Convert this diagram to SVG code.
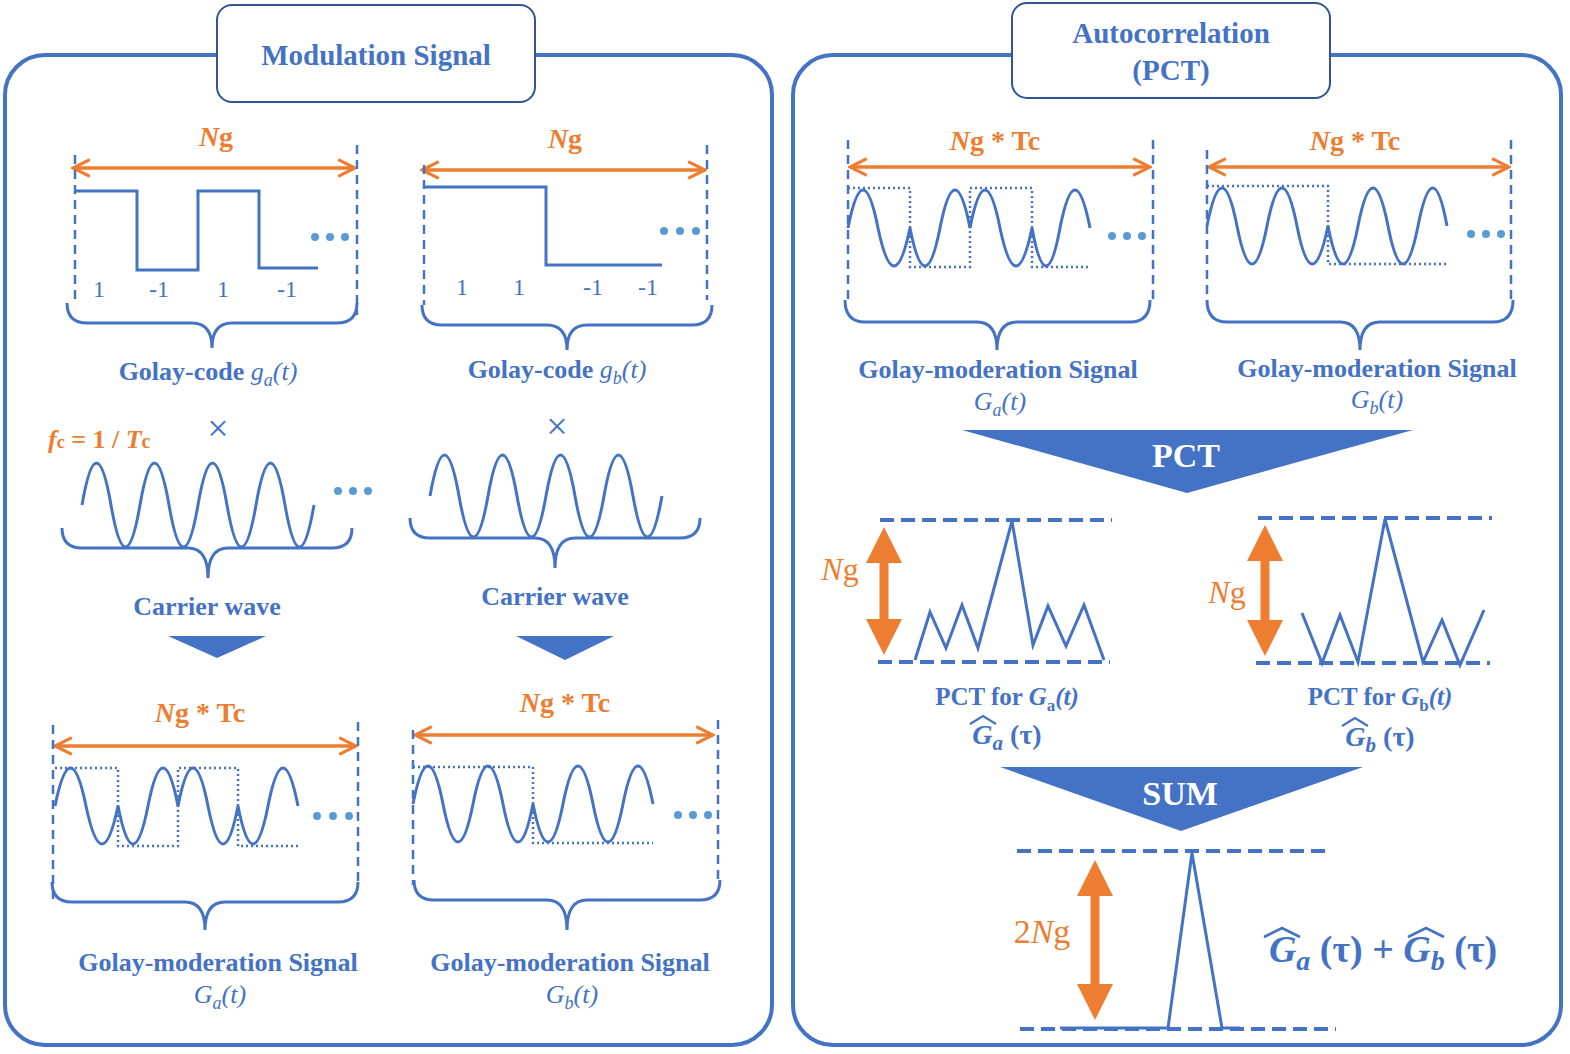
<svg xmlns="http://www.w3.org/2000/svg" width="1570" height="1054" viewBox="0 0 1570 1054">
<style>
.pan{fill:#fff;stroke:#4472C4;stroke-width:4}
.tbox{fill:#fff;stroke:#2F5597;stroke-width:2}
.b{fill:none;stroke:#4472C4;stroke-width:3}
.dv{fill:none;stroke:#4472C4;stroke-width:2.5;stroke-dasharray:9 6}
.dh{fill:none;stroke:#4472C4;stroke-width:4;stroke-dasharray:14 7}
.dot{fill:none;stroke:#4472C4;stroke-width:2.5;stroke-dasharray:2 3}
.oa{stroke:#ED7D31;stroke-width:3.5;marker-start:url(#ah);marker-end:url(#ah)}
.va{stroke:#ED7D31;stroke-width:9}
.t{font-family:"Liberation Serif",serif;font-weight:bold;fill:#4472C4;font-size:26px;text-anchor:middle}
.m{font-family:"Liberation Serif",serif;font-style:italic;fill:#4472C4;font-size:26px;text-anchor:middle}
.o{font-family:"Liberation Serif",serif;font-weight:bold;fill:#ED7D31;font-size:28px;text-anchor:middle}
.n{font-family:"Liberation Serif",serif;fill:#4472C4;font-size:24px;text-anchor:middle}
.w{font-family:"Liberation Serif",serif;font-weight:bold;fill:#fff;font-size:34px;text-anchor:middle}
.tri{fill:#4472C4}
.dd{fill:#5B9BD5}
.hat{fill:none;stroke:#4472C4;stroke-width:2.2}
</style>
<defs>
<marker id="ah" viewBox="0 0 20 20" refX="18" refY="10" markerWidth="6" markerHeight="6" orient="auto-start-reverse" markerUnits="strokeWidth"><path d="M2 2 L18 10 L2 18" fill="none" stroke="#ED7D31" stroke-width="3"/></marker>
<marker id="vh" viewBox="0 0 10 10" refX="5" refY="5" markerWidth="4.5" markerHeight="4" orient="auto-start-reverse"><path d="M0 0 L10 5 L0 10 Z" fill="#ED7D31"/></marker>
</defs>
<rect width="1570" height="1054" fill="#fff"/>
<g id="panel-left"><rect class="pan" x="5" y="55" width="767" height="990" rx="40"/>
<rect class="tbox" x="217" y="5" width="318" height="97" rx="15"/><text class="t" x="376" y="65" style="font-size:29px">Modulation Signal</text></g>
<g id="panel-right"><rect class="pan" x="793" y="55" width="768" height="990" rx="40"/>
<rect class="tbox" x="1012" y="3" width="318" height="95" rx="15"/><text class="t" x="1171" y="43" style="font-size:29px">Autocorrelation</text><text class="t" x="1171" y="80" style="font-size:29px">(PCT)</text></g>

<g id="golay-a">
<text class="o" x="216" y="146"><tspan font-style="italic">N</tspan>g</text>
<line class="oa" x1="73" y1="168" x2="355" y2="168"/>
<line class="dv" x1="75" y1="155" x2="75" y2="300"/><line class="dv" x1="357" y1="145" x2="357" y2="315"/>
<path class="b" d="M75 191 H137 V270 H198 V191 H259 V268 H318"/>
<circle class="dd" cx="315" cy="237" r="4"/><circle class="dd" cx="330" cy="237" r="4"/><circle class="dd" cx="345" cy="237" r="4"/>
<text class="n" x="99" y="297">1</text><text class="n" x="159" y="297">-1</text><text class="n" x="223" y="297">1</text><text class="n" x="287" y="297">-1</text>
<path class="b" d="M67 303 Q67 323 87 323 H192 Q212 323 212 348 Q212 323 232 323 H337 Q357 323 357 303"/>
<text class="t" x="208" y="380">Golay-code <tspan font-style="italic" font-weight="normal">g<tspan font-size="18" dy="6">a</tspan><tspan dy="-6">(t)</tspan></tspan></text>
</g>
<g id="golay-b">
<text class="o" x="565" y="148"><tspan font-style="italic">N</tspan>g</text>
<line class="oa" x1="422" y1="170" x2="705" y2="170"/>
<line class="dv" x1="424" y1="165" x2="424" y2="305"/><line class="dv" x1="707" y1="145" x2="707" y2="300"/>
<path class="b" d="M424 187 H546 V265 H662"/>
<circle class="dd" cx="664" cy="231" r="4"/><circle class="dd" cx="680" cy="231" r="4"/><circle class="dd" cx="696" cy="231" r="4"/>
<text class="n" x="462" y="295">1</text><text class="n" x="519" y="295">1</text><text class="n" x="593" y="295">-1</text><text class="n" x="648" y="295">-1</text>
<path class="b" d="M422 305 Q422 325 442 325 H547 Q567 325 567 350 Q567 325 587 325 H692 Q712 325 712 305"/>
<text class="t" x="557" y="378">Golay-code <tspan font-style="italic" font-weight="normal">g<tspan font-size="18" dy="6">b</tspan><tspan dy="-6">(t)</tspan></tspan></text>
</g>

<g id="carrier-a">
<text class="n" x="218" y="441" style="font-size:38px">×</text>
<text class="o" x="48" y="448" style="text-anchor:start;font-size:26px"><tspan font-style="italic">f</tspan><tspan font-size="18">c</tspan> = 1 / <tspan font-style="italic">T</tspan><tspan font-size="20">c</tspan></text>
<path class="b" d="M82 505 q14.5 -84 29 0 t29 0 t29 0 t29 0 t29 0 t29 0 t29 0 t29 0"/>
<circle class="dd" cx="338" cy="491" r="4"/><circle class="dd" cx="353" cy="491" r="4"/><circle class="dd" cx="368" cy="491" r="4"/>
<path class="b" d="M62 528 Q62 548 82 548 H188 Q208 548 208 578 Q208 548 228 548 H332 Q352 548 352 528"/>
<text class="t" x="207" y="615">Carrier wave</text>
<polygon class="tri" points="168,636 266,636 217,658"/>
</g>
<g id="carrier-b">
<text class="n" x="557" y="439" style="font-size:38px">×</text>
<path class="b" d="M430 496 q14.5 -82 29 0 t29 0 t29 0 t29 0 t29 0 t29 0 t29 0 t29 0"/>
<path class="b" d="M410 518 Q410 538 430 538 H535 Q555 538 555 568 Q555 538 575 538 H680 Q700 538 700 518"/>
<text class="t" x="555" y="605">Carrier wave</text>
<polygon class="tri" points="516,636 614,636 565,660"/>
</g>

<g id="mod-a">
<text class="o" x="200" y="722"><tspan font-style="italic">N</tspan>g * Tc</text>
<line class="oa" x1="55" y1="746" x2="356" y2="746"/>
<line class="dv" x1="53" y1="725" x2="53" y2="900"/><line class="dv" x1="358" y1="722" x2="358" y2="885"/>
<polyline class="dot" points="55,768 118,768 118,846 178,846 178,768 238,768 238,846 298,846"/>
<path class="b" d="M55 806 Q70.5 730 86 806 Q102 882 118 806 Q133 882 148 806 Q163 730 178 806 Q193 730 208 806 Q223 882 238 806 Q253 882 268 806 Q283 730 298 806"/>
<circle class="dd" cx="317" cy="816" r="4"/><circle class="dd" cx="333" cy="816" r="4"/><circle class="dd" cx="349" cy="816" r="4"/>
<path class="b" d="M52 882 Q52 902 72 902 H185 Q205 902 205 930 Q205 902 225 902 H338 Q358 902 358 882"/>
<text class="t" x="218" y="971">Golay-moderation  Signal</text>
<text class="m" x="220" y="1003">G<tspan font-size="18" dy="6">a</tspan><tspan dy="-6">(t)</tspan></text>
</g>
<g id="mod-b">
<text class="o" x="565" y="712"><tspan font-style="italic">N</tspan>g * Tc</text>
<line class="oa" x1="415" y1="735" x2="713" y2="735"/>
<line class="dv" x1="413" y1="730" x2="413" y2="885"/><line class="dv" x1="718" y1="720" x2="718" y2="885"/>
<polyline class="dot" points="413,767 533,767 533,843 653,843"/>
<path class="b" d="M413 804 Q428 728 443 804 Q458 880 473 804 Q488 728 503 804 Q518 880 533 804 Q548 880 563 804 Q578 728 593 804 Q608 880 623 804 Q638 728 653 804"/>
<circle class="dd" cx="678" cy="815" r="4"/><circle class="dd" cx="693" cy="815" r="4"/><circle class="dd" cx="708" cy="815" r="4"/>
<path class="b" d="M414 880 Q414 900 434 900 H547 Q567 900 567 930 Q567 900 587 900 H700 Q720 900 720 880"/>
<text class="t" x="570" y="971">Golay-moderation  Signal</text>
<text class="m" x="572" y="1003">G<tspan font-size="18" dy="6">b</tspan><tspan dy="-6">(t)</tspan></text>
</g>

<g id="sig-a">
<text class="o" x="995" y="150"><tspan font-style="italic">N</tspan>g * Tc</text>
<line class="oa" x1="850" y1="167" x2="1150" y2="167"/>
<line class="dv" x1="848" y1="140" x2="848" y2="300"/><line class="dv" x1="1153" y1="140" x2="1153" y2="300"/>
<polyline class="dot" points="848,188 910,188 910,267 970,267 970,188 1032,188 1032,267 1090,267"/>
<path class="b" d="M848 228 Q863 152 878 228 Q894 304 910 228 Q925 304 940 228 Q955 152 970 228 Q985 152 1000 228 Q1016 304 1032 228 Q1046 304 1060 228 Q1075 152 1090 228"/>
<circle class="dd" cx="1112" cy="236" r="4"/><circle class="dd" cx="1127" cy="236" r="4"/><circle class="dd" cx="1142" cy="236" r="4"/>
<path class="b" d="M845 300 Q845 322 865 322 H977 Q997 322 997 350 Q997 322 1017 322 H1130 Q1150 322 1150 300"/>
<text class="t" x="998" y="378">Golay-moderation  Signal</text>
<text class="m" x="1000" y="410">G<tspan font-size="18" dy="6">a</tspan><tspan dy="-6">(t)</tspan></text>
</g>
<g id="sig-b">
<text class="o" x="1355" y="150"><tspan font-style="italic">N</tspan>g * Tc</text>
<line class="oa" x1="1209" y1="167" x2="1509" y2="167"/>
<line class="dv" x1="1207" y1="150" x2="1207" y2="300"/><line class="dv" x1="1511" y1="140" x2="1511" y2="300"/>
<polyline class="dot" points="1207,186 1328,186 1328,264 1447,264"/>
<path class="b" d="M1207 226 Q1222 150 1237 226 Q1252 302 1267 226 Q1282 150 1297 226 Q1312 302 1328 226 Q1343 302 1358 226 Q1373 150 1388 226 Q1403 302 1418 226 Q1433 150 1447 226"/>
<circle class="dd" cx="1471" cy="234" r="4"/><circle class="dd" cx="1486" cy="234" r="4"/><circle class="dd" cx="1501" cy="234" r="4"/>
<path class="b" d="M1207 300 Q1207 322 1227 322 H1340 Q1360 322 1360 350 Q1360 322 1380 322 H1493 Q1513 322 1513 300"/>
<text class="t" x="1377" y="377">Golay-moderation  Signal</text>
<text class="m" x="1377" y="408">G<tspan font-size="18" dy="6">b</tspan><tspan dy="-6">(t)</tspan></text>
</g>

<g id="pct-arrow"><polygon class="tri" points="962,430 1413,430 1187,493"/><text class="w" x="1186" y="467">PCT</text></g>

<g id="pct-a">
<line class="dh" x1="880" y1="520" x2="1112" y2="520"/><line class="dh" x1="878" y1="662" x2="1110" y2="662"/>
<line class="va" x1="884" y1="545" x2="884" y2="637" marker-start="url(#vh)" marker-end="url(#vh)"/>
<text class="o" x="840" y="580" style="font-weight:normal;font-size:32px"><tspan font-style="italic">N</tspan>g</text>
<polyline class="b" points="915,660 930,612 946,648 962,605 978,648 1012,521 1033,645 1048,606 1066,646 1084,605 1104,660"/>
<text class="n" x="1007" y="705" style="font-weight:bold;font-size:25px">PCT for <tspan font-style="italic">G</tspan><tspan font-size="17" dy="6">a</tspan><tspan dy="-6" font-style="italic">(t)</tspan></text>
<text class="m" x="1007" y="744" style="font-weight:bold;font-size:28px">G<tspan font-size="21" dy="6">a</tspan><tspan dy="-6" font-style="normal"> (τ)</tspan></text>
<path class="hat" d="M970 724 L983 716 L996 724"/>
</g>
<g id="pct-b">
<line class="dh" x1="1258" y1="518" x2="1492" y2="518"/><line class="dh" x1="1256" y1="663" x2="1490" y2="663"/>
<line class="va" x1="1265" y1="543" x2="1265" y2="638" marker-start="url(#vh)" marker-end="url(#vh)"/>
<text class="o" x="1227" y="603" style="font-weight:normal;font-size:32px"><tspan font-style="italic">N</tspan>g</text>
<polyline class="b" points="1302,613 1322,663 1340,615 1358,662 1385,519 1423,662 1442,620 1460,665 1484,610"/>
<text class="n" x="1380" y="705" style="font-weight:bold;font-size:25px">PCT for <tspan font-style="italic">G</tspan><tspan font-size="17" dy="6">b</tspan><tspan dy="-6" font-style="italic">(t)</tspan></text>
<text class="m" x="1380" y="746" style="font-weight:bold;font-size:28px">G<tspan font-size="21" dy="6">b</tspan><tspan dy="-6" font-style="normal"> (τ)</tspan></text>
<path class="hat" d="M1342 726 L1355 718 L1368 726"/>
</g>

<g id="sum-arrow"><polygon class="tri" points="1000,767 1363,767 1181,831"/><text class="w" x="1180" y="805">SUM</text></g>

<g id="sum-result">
<line class="dh" x1="1017" y1="851" x2="1325" y2="851"/><line class="dh" x1="1020" y1="1029" x2="1336" y2="1029"/>
<line class="va" x1="1095" y1="878" x2="1095" y2="1002" marker-start="url(#vh)" marker-end="url(#vh)"/>
<text class="o" x="1042" y="943" style="font-weight:normal;font-size:34px">2<tspan font-style="italic">N</tspan>g</text>
<polyline class="b" points="1060,1028 1168,1028 1192,853 1222,1028 1240,1028"/>
<text class="m" x="1383" y="962" style="font-weight:bold;font-size:38px">G<tspan font-size="28" dy="8">a</tspan><tspan dy="-8" font-style="normal"> (τ) + </tspan>G<tspan font-size="28" dy="8">b</tspan><tspan dy="-8" font-style="normal"> (τ)</tspan></text>
<path class="hat" d="M1264 937 L1282 928 L1300 937 M1408 937 L1426 928 L1444 937" style="stroke-width:2.6"/>
</g>
</svg>
